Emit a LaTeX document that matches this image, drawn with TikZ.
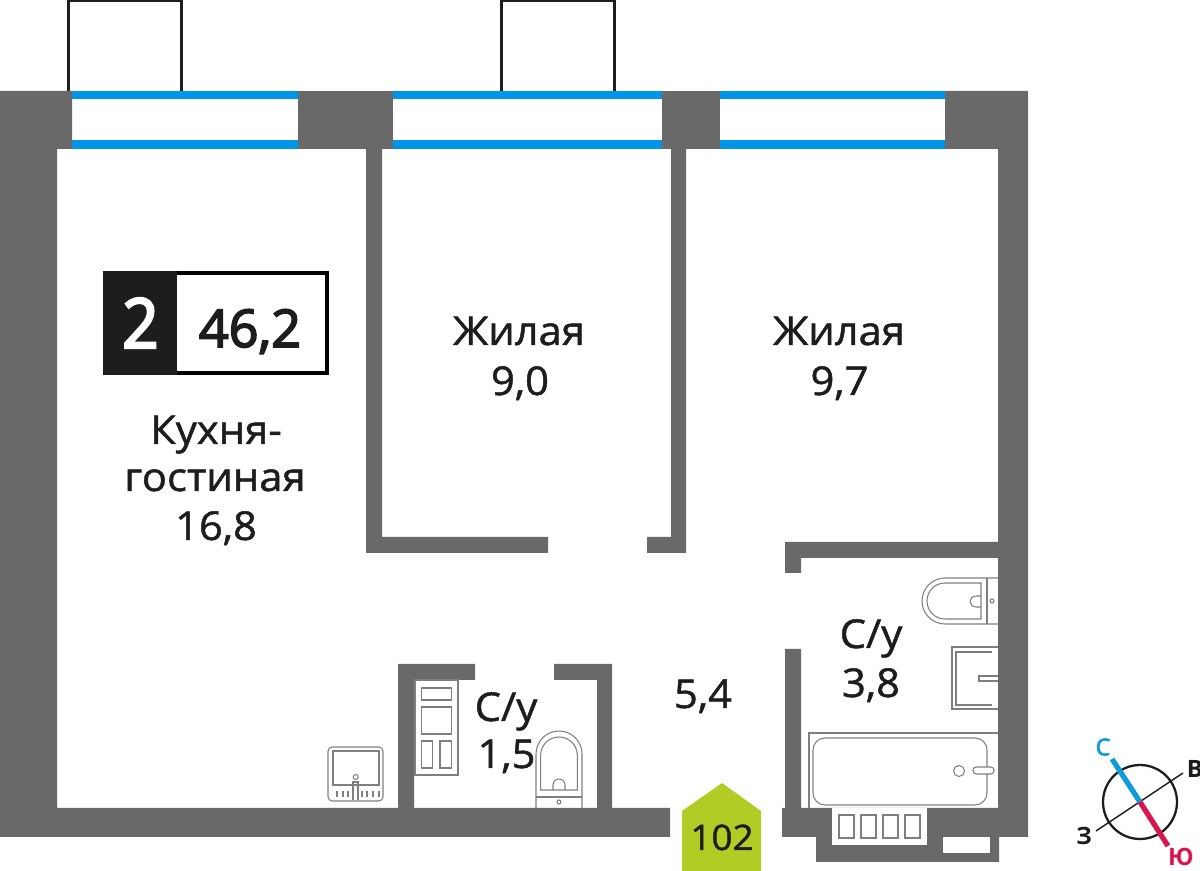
\documentclass[tikz,border=0pt]{standalone}
\usepackage{fontspec}
\setmainfont[FakeBold=1.2,FakeStretch=1.05]{Open Sans}
\newfontfamily\semib[FakeBold=3.2]{Open Sans}
\newfontfamily\narrowb[FakeBold=3.6,FakeStretch=0.92]{Open Sans}
\newfontfamily\boldf{Open Sans Bold}
\definecolor{wallc}{HTML}{696969}
\definecolor{glass}{HTML}{0095E8}
\definecolor{inkc}{HTML}{1D1D1B}
\definecolor{fixc}{HTML}{7F7F7F}
\definecolor{housec}{HTML}{B2CB25}
\definecolor{northc}{HTML}{0F9BD7}
\definecolor{southc}{HTML}{D9174F}
\newcommand{\fsz}[1]{\fontsize{#1}{#1}\selectfont}
\tikzset{
  wall/.style={fill=wallc,draw=none},
  glassbar/.style={fill=glass,draw=none},
  fixture/.style={draw=fixc,line width=0.3pt,fill=none},
  fixturebold/.style={draw=fixc,line width=0.45pt,fill=none},
  roomlabel/.style={anchor=base,inner sep=0pt,text=inkc,font=\fsz{11.3pt}},
  compasslabel/.style={anchor=center,inner sep=0pt,font=\semib\fsz{6.6pt}},
  compassbold/.style={anchor=center,inner sep=0pt,font=\boldf\fsz{6.8pt}},
}
\begin{document}
\begin{tikzpicture}[x=0.01cm,y=-0.01cm]
\useasboundingbox (0,0) rectangle (1200,871);
% balconies
\draw[draw=inkc,line width=0.6pt] (68.5,91)--(68.5,0.6)--(181.5,0.6)--(181.5,91);
\draw[draw=inkc,line width=0.6pt] (501.5,91)--(501.5,0.6)--(614.5,0.6)--(614.5,91);
% glazing
\foreach \a/\b in {72/298,393/662,720/945}{
  \fill[glassbar] (\a,91) rectangle (\b,99.5);
  \fill[glassbar] (\a,140.5) rectangle (\b,149);
}
% walls
\fill[wall] (0,91)--(72,91)--(72,149)--(57,149)--(57,808)--(398,808)--(398,664)--(475,664)--(475,680)--(414,680)--(414,808)--(597,808)--(597,680)--(554,680)--(554,664)--(612,664)--(612,808)--(670,808)--(670,837)--(0,837)--cycle;
\fill[wall] (298,91) rectangle (393,149);
\fill[wall] (366,149)--(382,149)--(382,537)--(548,537)--(548,553)--(366,553)--cycle;
\fill[wall] (662,91) rectangle (720,149);
\fill[wall] (671,149)--(686,149)--(686,553)--(647,553)--(647,537)--(671,537)--cycle;
\fill[wall] (945,91)--(1028,91)--(1028,837)--(999,837)--(999,862)--(816,862)--(816,837)--(782,837)--(782,808)--(785,808)--(785,649)--(801,649)--(801,808)--(998,808)--(998,558)--(801,558)--(801,573)--(785,573)--(785,542)--(998,542)--(998,149)--(945,149)--cycle;
\fill[white] (832,808) rectangle (927,845);
\fill[white] (943,837) rectangle (990,853);
% kitchen sink
\draw[fixture,rounded corners=1.2pt] (328,747) rectangle (383,801);
\draw[fixture] (333,785)--(333,751)--(379,751)--(379,785)--cycle;
\draw[fixture] (355.7,777) circle (2.5);
\draw[fixture] (353,800)--(353,782)--(358,782)--(358,800);
\foreach \t in {337,343,348,362,367,373,379}{\draw[fixture] (\t,791)--(\t,797);}
% cabinet
\draw[fixture,fill=white] (415,680) rectangle (458,775);
\draw[fixturebold] (421.7,688) rectangle (451.7,700);
\draw[fixturebold] (421.7,707) rectangle (451.7,734);
\draw[fixturebold] (421.7,741) rectangle (432.3,768);
\draw[fixturebold] (440,741) rectangle (451.7,768);
% toilet small bathroom
\draw[fixture] (536,808)--(536,754) .. controls (536,741.3) and (546.3,731) .. (559,731) .. controls (571.7,731) and (582,741.3) .. (582,754) -- (582,808);
\draw[fixture] (536,797)--(582,797);
\draw[fixture] (540.7,790)--(540.7,755.3) .. controls (540.7,745.2) and (548.9,737) .. (559,737) .. controls (569.1,737) and (577.3,745.2) .. (577.3,755.3) -- (577.3,790) -- cycle;
\draw[fixture] (553,790)--(553,785) .. controls (553,781.7) and (555.7,779) .. (559,779) .. controls (562.3,779) and (565,781.7) .. (565,785) -- (565,790);
\draw[fixture] (559,802) circle (2);
% toilet large bathroom
\draw[fixture] (998,578)--(945,578) .. controls (932.3,578) and (922,588.3) .. (922,601) .. controls (922,613.7) and (932.3,624) .. (945,624) -- (998,624);
\draw[fixture] (987,578)--(987,624);
\draw[fixture] (981,583)--(945,583) .. controls (935,583) and (927,591) .. (927,601) .. controls (927,611) and (935,619) .. (945,619) -- (981,619) -- cycle;
\draw[fixture] (981,596)--(976,596) .. controls (972.7,596) and (970,598.5) .. (970,601.5) .. controls (970,604.5) and (972.7,607) .. (976,607) -- (981,607);
\draw[fixture] (992,601) circle (2);
% sink large bathroom
\draw[fixturebold] (998,647)--(952,647)--(952,709)--(998,709);
\draw[fixturebold] (992,652)--(956,652)--(956,705)--(992,705);
\draw[fixturebold] (998,676)--(979,676)--(979,681)--(998,681);
% bath
\draw[fixture] (809,808)--(809,733)--(998,733);
\draw[fixture,rounded corners=3.4pt] (813,738) rectangle (987,805);
\draw[fixture] (959,771) circle (5.5);
\draw[fixture,fill=white,rounded corners=0.9pt] (973,767) rectangle (994,774);
% radiator
\foreach \a in {839,861,883,905}{\draw[fixturebold] (\a,815) rectangle +(15,23);}
% badge
\fill[inkc] (103,271) rectangle (177,375);
\draw[black,line width=1.1pt] (177,273)--(327,273)--(327,373)--(177,373);
\node[anchor=base,inner sep=0pt,text=white,font=\narrowb\fsz{19.6pt}] (rooms) at (140.5,348) {2};
\node[anchor=base,inner sep=0pt,text=inkc,font=\semib\fsz{14.8pt}] (area) at (250,347) {46,2};
% room labels
\node[roomlabel] (l1a) at (519,345) {Жилая};
\node[roomlabel] (l1b) at (520,395) {9,0};
\node[roomlabel] (l2a) at (839,345) {Жилая};
\node[roomlabel] (l2b) at (839.5,395) {9,7};
\node[roomlabel] (k1) at (216,444) {Кухня-};
\node[roomlabel] (k2) at (215,491) {гостиная};
\node[roomlabel] (k3) at (216,540) {16,8};
\node[roomlabel] (b1a) at (506,721) {С/у};
\node[roomlabel] (b1b) at (506.5,768) {1,5};
\node[roomlabel] (b2a) at (871,648) {С/у};
\node[roomlabel] (b2b) at (871,697) {3,8};
\node[roomlabel] (hall) at (703,708) {5,4};
% house badge
\fill[housec] (722,783)--(761,811)--(761,871)--(682,871)--(682,811)--cycle;
\node[anchor=base,inner sep=0pt,text=inkc,font=\fsz{10pt}] (num) at (722,850) {102};
% compass
\coordinate (cc) at (1140,802);
\coordinate (cn) at (1112,759);
\coordinate (cs) at (1168,846);
\coordinate (cw) at (1096,831);
\coordinate (ce) at (1183,773);
\draw[inkc,line width=0.65pt] (cc) circle (37);
\draw[inkc,line width=0.4pt] (cw)--(ce);
\draw[northc,line width=1.5pt] (cn)--(cc);
\draw[southc,line width=1.5pt] (cc)--(cs);
\node[compasslabel,text=northc] (ln) at (1103,747) {С};
\node[compassbold,text=inkc] (le) at (1195,769) {В};
\node[compassbold,text=inkc] (lw) at (1084,836) {З};
\node[compassbold,text=southc] (ls) at (1181,857) {Ю};
\end{tikzpicture}
\end{document}
